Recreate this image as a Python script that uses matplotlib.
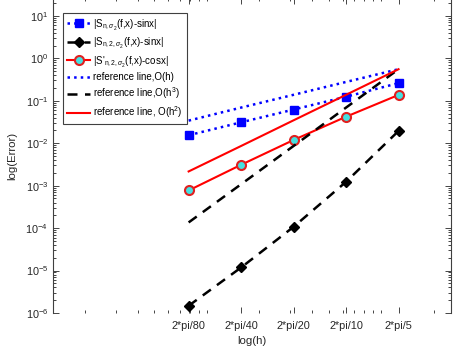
import numpy as np
import matplotlib
matplotlib.use("Agg")
import matplotlib.pyplot as plt
from matplotlib.ticker import (LogLocator, NullFormatter, FixedLocator,
                               FixedFormatter, LogFormatterSciNotation)

plt.rcParams['font.family'] = ['Liberation Sans', 'DejaVu Sans']
plt.rcParams['mathtext.fontset'] = 'custom'
plt.rcParams['mathtext.rm'] = 'Liberation Sans'
plt.rcParams['mathtext.it'] = 'Liberation Sans:italic'
plt.rcParams['mathtext.sf'] = 'Liberation Sans'

# step sizes and tick labels
h = [2 * np.pi / 80, 2 * np.pi / 40, 2 * np.pi / 20, 2 * np.pi / 10, 2 * np.pi / 5]
h_labels = ["2*pi/80", "2*pi/40", "2*pi/20", "2*pi/10", "2*pi/5"]
y_ticks = [1e-6, 1e-5, 1e-4, 1e-3, 1e-2, 1e-1, 1e0, 1e1]

# errors
err_sn = [0.0154, 0.031, 0.062, 0.124, 0.26]
err_sn2 = [1.48e-6, 1.18e-5, 1.07e-4, 1.23e-3, 0.0194]
err_dsn2 = [7.7e-4, 3.1e-3, 0.0119, 0.042, 0.137]

# reference lines
ref_h1 = [0.034, 0.069, 0.138, 0.277, 0.553]
ref_h3 = [1.36e-4, 1.08e-3, 8.6e-3, 0.069, 0.553]
ref_h2 = [2.16e-3, 8.6e-3, 0.0346, 0.138, 0.553]

labels = [
    r"|S$_{\mathrm{n},\sigma_2}$(f,x)-sinx|",
    r"|S$_{\mathrm{n,2,}\sigma_2}$(f,x)-sinx|",
    r"|S$'_{\mathrm{n,2,}\sigma_2}$(f,x)-cosx|",
    "reference line,O(h)",
    r"reference line,O(h$^3$)",
    r"reference line, O(h$^2$)",
]

W, H = 474, 361
fig = plt.figure(figsize=(W / 100, H / 100), dpi=100)
ax = fig.add_axes([53 / W, 1 - 313 / H, (451 - 53) / W, 315 / H])

ax.plot(h, err_sn, ls=':', color='#0000ff', lw=1.8, marker='s', ms=5.5,
        mfc='#0000ff', mec='#0000ff', label=labels[0])
ax.plot(h, err_sn2, ls=(0, (4, 3)), color='black', lw=1.8, marker='D', ms=5.5,
        mfc='black', mec='black', label=labels[1])
ax.plot(h, err_dsn2, ls='-', color='#ff0000', lw=1.5, marker='o', ms=6.5,
        mfc='#45e0e0', mec='#e02020', mew=1.5, label=labels[2])
ax.plot(h, ref_h1, ls=':', color='#0000ff', lw=1.8, label=labels[3])
ax.plot(h, ref_h3, ls=(0, (4, 3)), color='black', lw=1.8, label=labels[4])
ax.plot(h, ref_h2, ls='-', color='#ff0000', lw=1.5, label=labels[5])

ax.set_xscale('log')
ax.set_yscale('log')
ax.set_xlim(2 * np.pi / 480, 2 * np.pi / 2.5)
ax.set_ylim(1e-6, 10 ** 1.42)

ax.xaxis.set_major_locator(FixedLocator(h))
ax.xaxis.set_major_formatter(FixedFormatter(h_labels))
ax.xaxis.set_minor_locator(LogLocator(base=10, subs=np.arange(1, 10), numticks=100))
ax.xaxis.set_minor_formatter(NullFormatter())
ax.yaxis.set_major_locator(FixedLocator(y_ticks))
ax.yaxis.set_major_formatter(LogFormatterSciNotation())
ax.yaxis.set_minor_locator(LogLocator(base=10, subs=np.arange(2, 10), numticks=100))
ax.yaxis.set_minor_formatter(NullFormatter())

ax.tick_params(which='both', direction='in', top=True, right=True,
               colors='#262626', labelsize=7.8, width=0.6)
ax.tick_params(which='major', length=4)
ax.tick_params(which='minor', length=2)
ax.tick_params(axis='x', pad=6)
for s in ax.spines.values():
    s.set_color('#404040')
    s.set_linewidth(0.8)
ax.spines['bottom'].set_visible(False)

ax.set_xlabel("log(h)", fontsize=8.2, color='#262626', labelpad=3)
ax.set_ylabel("log(Error)", fontsize=8.2, color='#262626', labelpad=6)

leg = ax.legend(loc='upper left', bbox_to_anchor=(0.025, 0.952), borderaxespad=0,
                fontsize=7, numpoints=1, handlelength=2.4, handletextpad=0.3,
                labelspacing=0.35, fancybox=False, framealpha=1, borderpad=0.4)
leg.get_frame().set_edgecolor('#404040')
leg.get_frame().set_linewidth(0.8)

fig.savefig("out.png", dpi=100)
